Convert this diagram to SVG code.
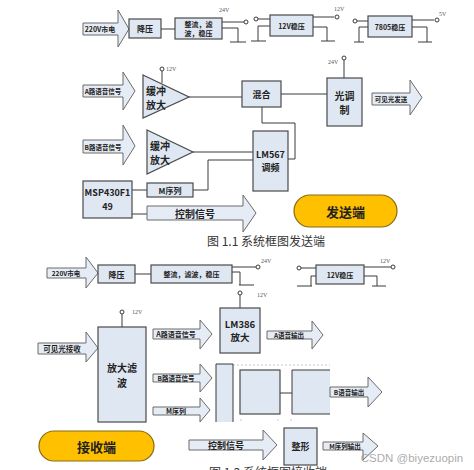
<svg xmlns="http://www.w3.org/2000/svg" width="474" height="470" viewBox="0 0 474 470">
<style>
.bx{fill:#dfe7f2;stroke:#4a4a4a;stroke-width:1.2}
.ar{fill:#e6ecf5;stroke:#6a6a6a;stroke-width:1}
.ln{fill:none;stroke:#3a3a3a;stroke-width:1}
.pin{fill:#fff;stroke:#3a3a3a;stroke-width:1}
.t{font-family:"Noto Sans CJK SC","Liberation Serif",serif;fill:#222;text-anchor:middle;dominant-baseline:central;font-weight:bold}
.s{font-family:"Liberation Serif",serif;fill:#555;font-size:6px}
.cap{font-family:"Noto Sans CJK SC","Liberation Sans",sans-serif;fill:#333;font-size:12px;text-anchor:middle}
.rr{fill:#ffc000;stroke:#8a6a10;stroke-width:1.2}
</style>
<rect width="474" height="470" fill="#fff"/>

<!-- ===== connectors ===== -->
<g id="connectors">
<path class="ln" d="M161,29 H175"/>
<path class="ln" d="M222,22 H244 M222,28 H238 V42 M230,42 H246"/>
<path class="ln" d="M258,19 H270 M270,26 H258 V41 M251,41 H266"/>
<path class="ln" d="M313,17 H334 M313,27 H327 V41 M321,41 H335"/>
<path class="ln" d="M357,21 H368 M368,27 H359 V42 M354,42 H364"/>
<path class="ln" d="M412,20 H434 M412,27 H427 V42 M418,42 H432"/>
<path class="ln" d="M162,71 V83"/>
<path class="ln" d="M189,97 H242"/>
<path class="ln" d="M281,94 H327"/>
<path class="ln" d="M344,60 V78"/>
<path class="ln" d="M193,152 H253"/>
<path class="ln" d="M262,107 V123 H295 V159 H288"/>
<path class="ln" d="M193,190 H208 V160 H253"/>
<path class="ln" d="M132,190 H147"/>
<path class="ln" d="M132,214 H147"/>
<path class="ln" d="M135,274 H151"/>
<path class="ln" d="M232,267 H256 M232,272 H240 V285 M239,285 H254"/>
<path class="ln" d="M301,268 H316 M316,276 H311 V286 M297,286 H312"/>
<path class="ln" d="M364,267 H391 M364,276 H377 V286 M372,286 H386"/>
<path class="ln" d="M122,314 V327"/>
<path class="ln" d="M240,295 V308"/>
<path class="ln" d="M280,393 H292"/>
<path d="M233,365 H330 M240,420 H243 M277,420 H280 M290,420 H293" fill="none" stroke="#bbb" stroke-width="0.8" stroke-dasharray="2,2"/>
</g>

<g id="pins">
<circle class="pin" cx="246" cy="22" r="2"/>
<circle class="pin" cx="256" cy="19" r="2"/>
<circle class="pin" cx="337" cy="17" r="2"/>
<circle class="pin" cx="355" cy="21" r="2"/>
<circle class="pin" cx="437" cy="20" r="2"/>
<circle class="pin" cx="162" cy="69" r="2"/>
<circle class="pin" cx="344" cy="58" r="2"/>
<circle class="pin" cx="258" cy="267" r="2"/>
<circle class="pin" cx="299" cy="268" r="2"/>
<circle class="pin" cx="393" cy="267" r="2"/>
<circle class="pin" cx="122" cy="312" r="2"/>
<circle class="pin" cx="240" cy="293" r="2"/>
<text class="s" x="219" y="12">24V</text>
<text class="s" x="334" y="11">12V</text>
<text class="s" x="439" y="16">5V</text>
<text class="s" x="166" y="71">12V</text>
<text class="s" x="328" y="64">24V</text>
<text class="s" x="261" y="263">24V</text>
<text class="s" x="380" y="263">12V</text>
<text class="s" x="132" y="314">12V</text>
<text class="s" x="257" y="297">12V</text>
</g>

<!-- ===== sender ===== -->
<g id="s_220v"><path class="ar" d="M83,23 H118 V10 L129,29 L118,47 V35 H83 Z"/><text class="t" x="100" y="29" font-size="7">220V市电</text></g>
<g id="s_jiangya"><rect class="bx" x="129" y="19" width="32" height="19"/><text class="t" x="145" y="28.5" font-size="8">降压</text></g>
<g id="s_zhengliu"><rect class="bx" x="175" y="18" width="47" height="21"/><text class="t" x="198.5" y="23.5" font-size="7">整流，滤</text><text class="t" x="198.5" y="33" font-size="7">波，稳压</text></g>
<g id="s_12v"><rect class="bx" x="270" y="15" width="43" height="21"/><text class="t" x="291.5" y="25.5" font-size="7">12V稳压</text></g>
<g id="s_7805"><rect class="bx" x="368" y="16" width="44" height="21"/><text class="t" x="390" y="26.5" font-size="7">7805稳压</text></g>

<g id="s_a_sig"><path class="ar" d="M83,85 H123 V72 L135,91 L123,110 V97 H83 Z"/><text class="t" x="103" y="91" font-size="6.5">A路语音信号</text></g>
<g id="s_buf1"><path class="bx" d="M143,75 L189,97 L143,118 Z"/><text class="t" x="156" y="90" font-size="10" font-weight="normal">缓冲</text><text class="t" x="156" y="104" font-size="10" font-weight="normal">放大</text></g>
<g id="s_mix"><rect class="bx" x="242" y="81" width="39" height="26"/><text class="t" x="261.5" y="94" font-size="9">混合</text></g>
<g id="s_lightmod"><rect class="bx" x="327" y="78" width="35" height="48"/><text class="t" x="344.5" y="95" font-size="10">光调</text><text class="t" x="344.5" y="109" font-size="10">制</text></g>
<g id="s_send"><path class="ar" d="M372,93 H410 V80 L422,97.5 L410,115 V105 H372 Z"/><text class="t" x="391" y="99" font-size="6.5">可见光发送</text></g>

<g id="s_b_sig"><path class="ar" d="M83,140 H123 V125 L135,146 L123,165 V153 H83 Z"/><text class="t" x="103" y="146.5" font-size="6.5">B路语音信号</text></g>
<g id="s_buf2"><path class="bx" d="M147,130 L193,152 L147,174 Z"/><text class="t" x="160" y="145" font-size="10" font-weight="normal">缓冲</text><text class="t" x="160" y="159" font-size="10" font-weight="normal">放大</text></g>
<g id="s_lm567"><rect class="bx" x="253" y="131" width="35" height="60"/><text class="t" x="270.5" y="154" font-size="9">LM567</text><text class="t" x="270.5" y="167" font-size="9">调频</text></g>

<g id="s_msp"><rect class="bx" x="83" y="181" width="49" height="37"/><text class="t" x="107.5" y="192.5" font-size="9">MSP430F1</text><text class="t" x="107.5" y="206" font-size="9">49</text></g>
<g id="s_mseq"><rect class="bx" x="147" y="183" width="46" height="14"/><text class="t" x="170" y="190" font-size="8">M序列</text></g>
<g id="s_ctrl"><path class="ar" d="M147,206 H243 V195 L256,213 L243,232 V220 H147 Z"/><text class="t" x="195" y="213" font-size="10" font-weight="normal">控制信号</text></g>
<g id="s_label"><rect class="rr" x="294" y="195" width="103" height="32" rx="16"/><text class="t" x="345.5" y="211" font-size="13" fill="#2a1f00">发送端</text></g>
<text class="cap" x="266" y="246">图  1.1 系统框图发送端</text>

<!-- ===== receiver ===== -->
<g id="r_220v"><path class="ar" d="M47,268 H86 V257 L98,273 L86,288 V278 H47 Z"/><text class="t" x="66" y="273" font-size="6.5">220V市电</text></g>
<g id="r_jiangya"><rect class="bx" x="98" y="265" width="37" height="18"/><text class="t" x="116.5" y="274" font-size="8">降压</text></g>
<g id="r_zhengliu"><rect class="bx" x="151" y="265" width="81" height="18"/><text class="t" x="191.5" y="274" font-size="7">整流，滤波，稳压</text></g>
<g id="r_12v"><rect class="bx" x="316" y="265" width="48" height="19"/><text class="t" x="340" y="274.5" font-size="7">12V稳压</text></g>

<g id="r_recv"><path class="ar" d="M38,343 H86 V332 L98,348 L86,362 V354 H38 Z"/><text class="t" x="62" y="348.5" font-size="7.5">可见光接收</text></g>
<g id="r_amp"><rect class="bx" x="98" y="327" width="48" height="95"/><text class="t" x="122" y="367" font-size="10" font-weight="normal">放大滤</text><text class="t" x="122" y="382" font-size="10" font-weight="normal">波</text></g>
<g id="r_a_sig"><path class="ar" d="M153,329 H200 V320 L212,334 L200,349 V339 H153 Z"/><text class="t" x="176" y="334" font-size="7">A路语音信号</text></g>
<g id="r_lm386"><rect class="bx" x="220" y="308" width="40" height="45"/><text class="t" x="240" y="324" font-size="9.5" font-weight="normal">LM386</text><text class="t" x="240" y="337" font-size="9.5" font-weight="normal">放大</text></g>
<g id="r_a_out"><path class="ar" d="M267,331 H312 V321 L323,335 L312,349 V339 H267 Z"/><text class="t" x="289" y="335" font-size="6.5">A语音输出</text></g>

<g id="r_b_sig"><path class="ar" d="M153,374 H200 V364 L212,378 L200,392 V382 H153 Z"/><text class="t" x="176" y="378" font-size="6.5">B路语音信号</text></g>
<g id="r_m_sig"><path class="ar" d="M153,407 H200 V398 L210,410 L200,422 V415 H153 Z"/><text class="t" x="176" y="411" font-size="7">M序列</text></g>
<g id="r_bar"><rect x="216" y="364" width="17" height="58" fill="#dfe7f2"/><path class="ln" d="M216,422 V364 H233 V422" stroke-width="1.2"/></g>
<g id="r_box1"><rect class="bx" x="240" y="370" width="40" height="44"/></g>
<g id="r_box2"><rect x="292" y="370" width="38" height="44" fill="#dfe7f2"/><path class="ln" d="M330,370 H292 V414 H330" stroke-width="1.2"/></g>
<g id="r_b_out"><path class="ar" d="M330,387 H368 V377 L382,392 L368,407 V397 H330 Z"/><text class="t" x="349" y="392" font-size="6.5">B语音输出</text></g>

<g id="r_label"><rect class="rr" x="39" y="431" width="115" height="30" rx="15"/><text class="t" x="96.5" y="446" font-size="13" fill="#2a1f00">接收端</text></g>
<g id="r_ctrl"><path class="ar" d="M189,440 H263 V430 L277,445 L263,460 V450 H189 Z"/><text class="t" x="226" y="445" font-size="9" font-weight="normal">控制信号</text></g>
<g id="r_shape"><rect class="bx" x="284" y="428" width="33" height="37"/><text class="t" x="300.5" y="446" font-size="9">整形</text></g>
<g id="r_m_out"><path class="ar" d="M323,442 H363 V433 L378,446 L363,460 V450 H323 Z"/><text class="t" x="345" y="446" font-size="6.5">M序列输出</text></g>
<text class="cap" x="268" y="477">图  1.2 系统框图接收端</text>
<text x="412" y="462" font-family="Liberation Sans, sans-serif" font-size="11.5" fill="#9a9a9a" fill-opacity="0.85" text-anchor="middle">CSDN @biyezuopin</text>
</svg>
